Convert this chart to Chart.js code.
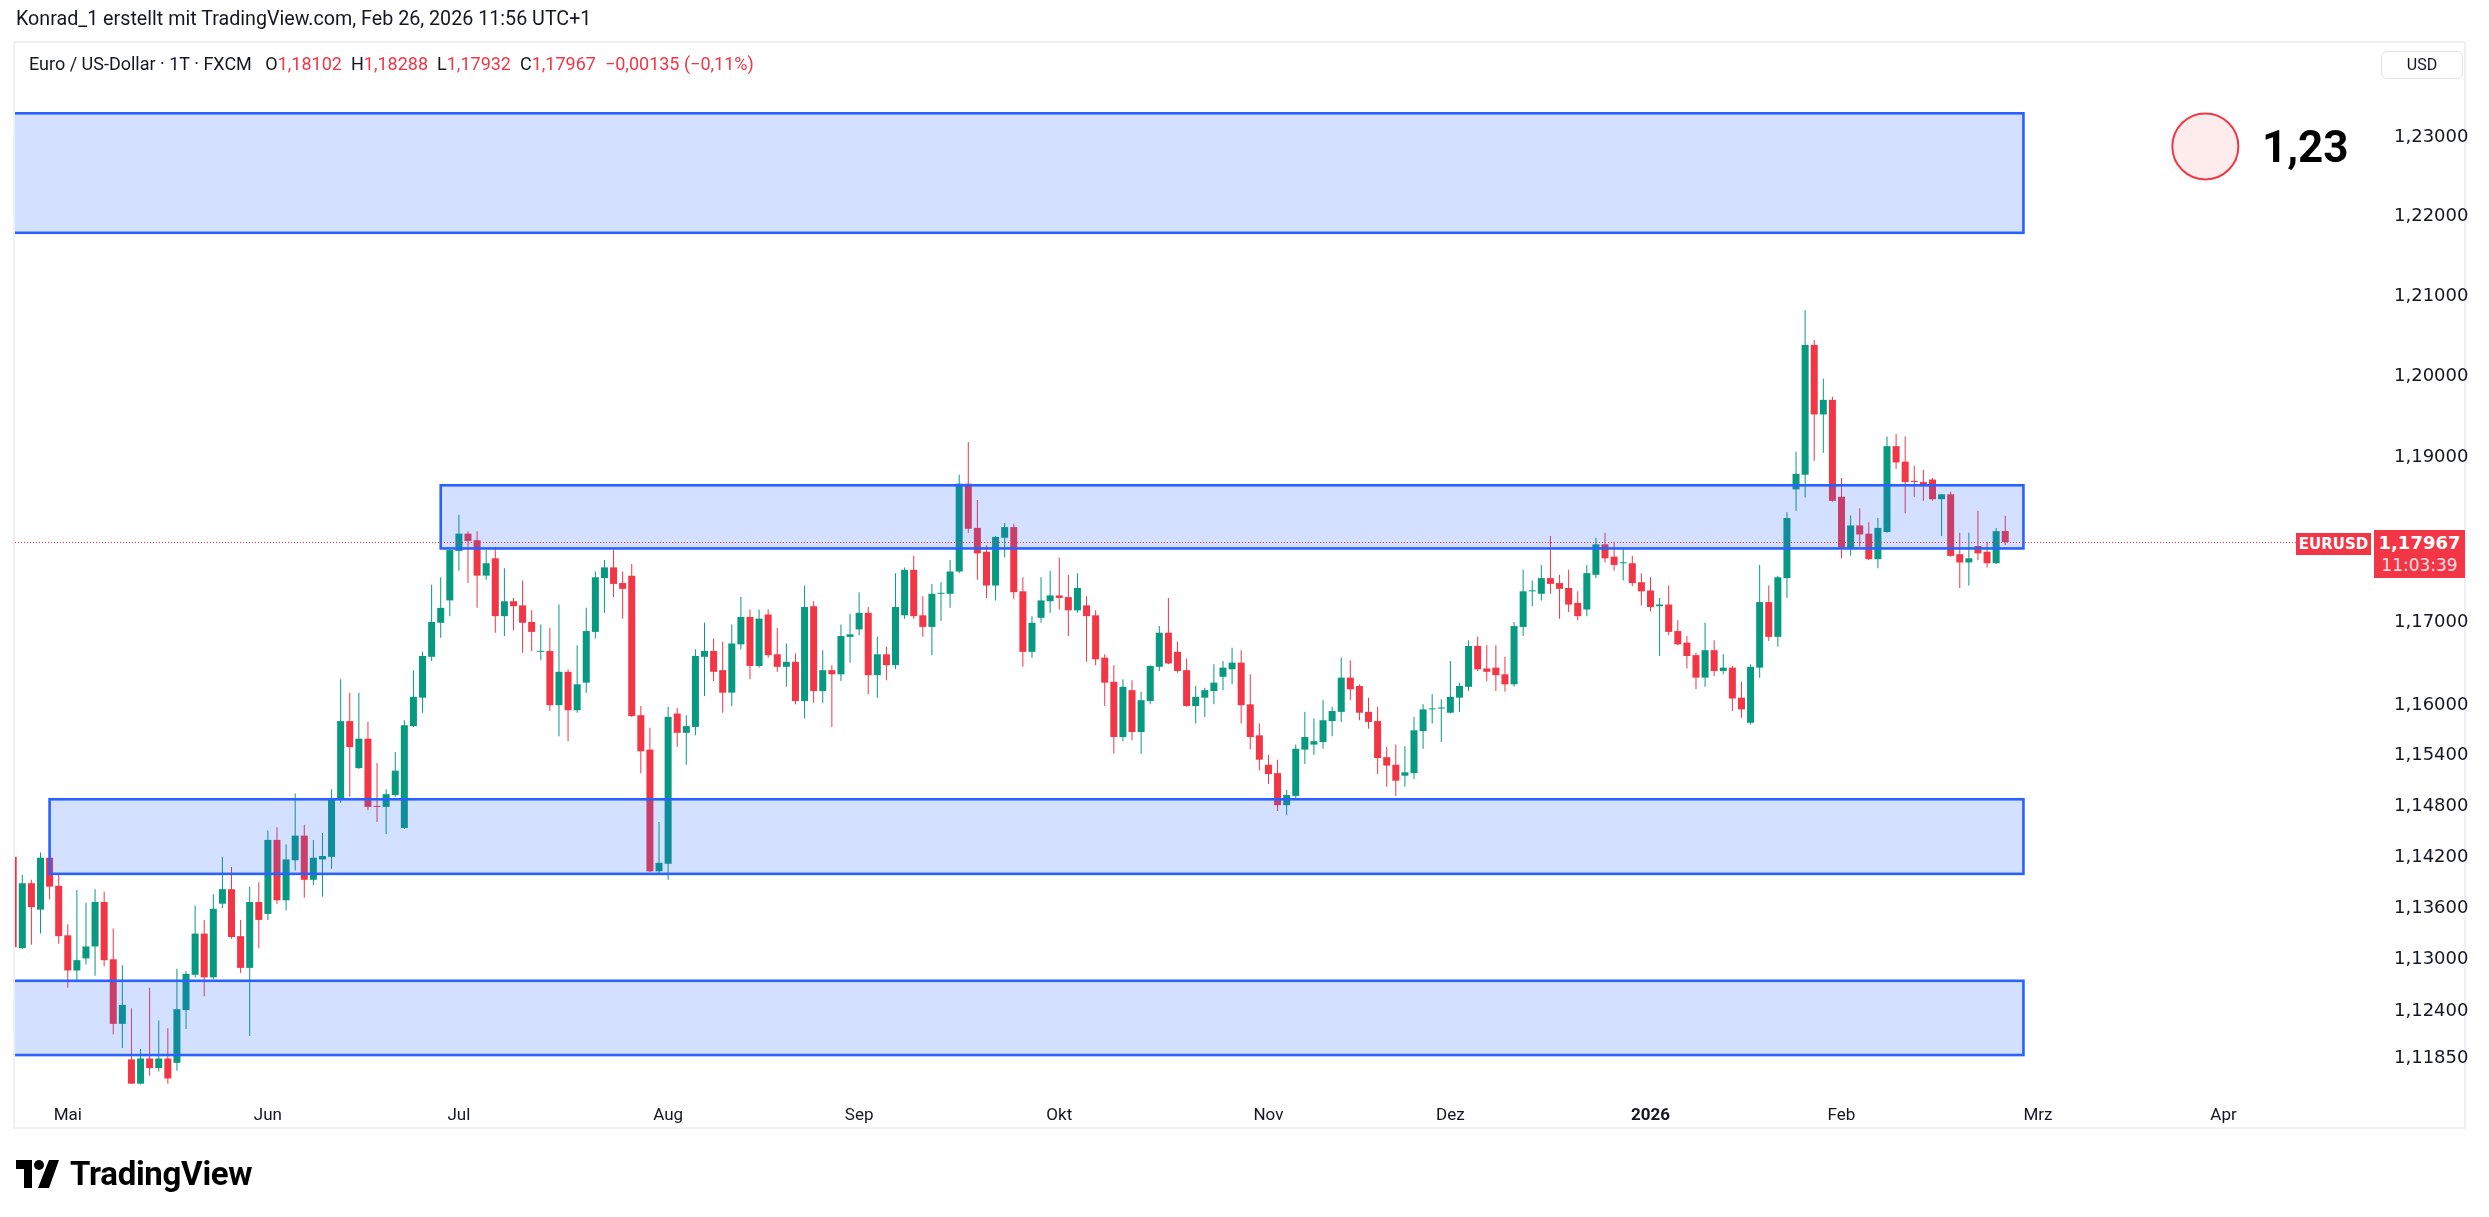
<!DOCTYPE html>
<html lang="de">
<head>
<meta charset="utf-8">
<title>Euro / US-Dollar · 1T · FXCM</title>
<script src="https://cdn.jsdelivr.net/npm/chart.js@4.4.1/dist/chart.umd.min.js"></script>
<style>
  html, body { margin: 0; padding: 0; background: #fff; }
  body { width: 2489px; height: 1217px; position: relative; overflow: hidden; font-family: Roboto, "Noto Sans", sans-serif; color: #131722; }
  #frame { position: absolute; left: 13px; top: 41px; width: 2453px; height: 1088px; border: 2px solid #eef0f4; box-sizing: border-box; }
  #chart { position: absolute; left: 0; top: 0; }
  #author { position: absolute; left: 16px; top: 7px; font-size: 19.7px; line-height: 24px; white-space: nowrap; }
  #legend { position: absolute; left: 29px; top: 53px; font-size: 18px; line-height: 22px; white-space: nowrap; }
  #legend span { margin-left: 9px; }
  #legend .v { color: #f23645; margin-left: 0; font-weight: normal; }
  #usd { position: absolute; left: 2381px; top: 51px; width: 82px; height: 28px; border: 1px solid #e0e3eb; border-radius: 6px; box-sizing: border-box; font-size: 16px; line-height: 26px; text-align: center; }
  #target { position: absolute; left: 2262px; top: 121px; font-size: 44px; line-height: 52px; font-weight: bold; color: #000; }
  #sym { position: absolute; left: 2296px; top: 533px; width: 75px; height: 22px; background: #f23645; color: #fff; font: bold 15px "DejaVu Sans", sans-serif; line-height: 22px; text-align: center; }
  #last { position: absolute; left: 2374px; top: 530px; width: 91px; height: 48px; background: #f23645; color: #fff; font-family: "DejaVu Sans", sans-serif; text-align: center; }
  #last .p { font-size: 18px; font-weight: bold; line-height: 24px; padding-top: 1px; }
  #last .t { font-size: 17px; line-height: 20px; color: rgba(255,255,255,0.85); }
  #logo { position: absolute; left: 16px; top: 1154px; display: flex; align-items: center; }
  #logo span { font-size: 33px; font-weight: bold; letter-spacing: -0.3px; margin-left: 10px; color: #000; }
</style>
</head>
<body>
<div id="frame"></div>
<canvas id="chart" width="2489" height="1217"></canvas>
<div id="author">Konrad_1 erstellt mit TradingView.com, Feb 26, 2026 11:56 UTC+1</div>
<div id="legend">Euro / US-Dollar · 1T · FXCM <span>O<b class="v">1,18102</b></span><span>H<b class="v">1,18288</b></span><span>L<b class="v">1,17932</b></span><span>C<b class="v">1,17967</b></span><span class="v" style="margin-left:9px">−0,00135 (−0,11%)</span></div>
<div id="usd">USD</div>
<div id="target">1,23</div>
<div id="sym">EURUSD</div>
<div id="last"><div class="p">1,17967</div><div class="t">11:03:39</div></div>
<div id="logo">
  <svg width="44" height="28" viewBox="0 0 44 28"><path d="M0 0H16V28H8V9H0Z" fill="#000"/><circle cx="23" cy="5" r="5" fill="#000"/><path d="M33 0H43L33 28H22Z" fill="#000"/></svg>
  <span>TradingView</span>
</div>
<script>
// EUR/USD Tageskerzen (FXCM)
const dates = [
  '2025-04-23','2025-04-24','2025-04-25',
  '2025-04-28','2025-04-29','2025-04-30','2025-05-01','2025-05-02',
  '2025-05-05','2025-05-06','2025-05-07','2025-05-08','2025-05-09',
  '2025-05-12','2025-05-13','2025-05-14','2025-05-15','2025-05-16',
  '2025-05-19','2025-05-20','2025-05-21','2025-05-22','2025-05-23',
  '2025-05-26','2025-05-27','2025-05-28','2025-05-29','2025-05-30',
  '2025-06-02','2025-06-03','2025-06-04','2025-06-05','2025-06-06',
  '2025-06-09','2025-06-10','2025-06-11','2025-06-12','2025-06-13',
  '2025-06-16','2025-06-17','2025-06-18','2025-06-19','2025-06-20',
  '2025-06-23','2025-06-24','2025-06-25','2025-06-26','2025-06-27',
  '2025-06-30','2025-07-01','2025-07-02','2025-07-03','2025-07-04',
  '2025-07-07','2025-07-08','2025-07-09','2025-07-10','2025-07-11',
  '2025-07-14','2025-07-15','2025-07-16','2025-07-17','2025-07-18',
  '2025-07-21','2025-07-22','2025-07-23','2025-07-24','2025-07-25',
  '2025-07-28','2025-07-29','2025-07-30','2025-07-31','2025-08-01',
  '2025-08-04','2025-08-05','2025-08-06','2025-08-07','2025-08-08',
  '2025-08-11','2025-08-12','2025-08-13','2025-08-14','2025-08-15',
  '2025-08-18','2025-08-19','2025-08-20','2025-08-21','2025-08-22',
  '2025-08-25','2025-08-26','2025-08-27','2025-08-28','2025-08-29',
  '2025-09-01','2025-09-02','2025-09-03','2025-09-04','2025-09-05',
  '2025-09-08','2025-09-09','2025-09-10','2025-09-11','2025-09-12',
  '2025-09-15','2025-09-16','2025-09-17','2025-09-18','2025-09-19',
  '2025-09-22','2025-09-23','2025-09-24','2025-09-25','2025-09-26',
  '2025-09-29','2025-09-30','2025-10-01','2025-10-02','2025-10-03',
  '2025-10-06','2025-10-07','2025-10-08','2025-10-09','2025-10-10',
  '2025-10-13','2025-10-14','2025-10-15','2025-10-16','2025-10-17',
  '2025-10-20','2025-10-21','2025-10-22','2025-10-23','2025-10-24',
  '2025-10-27','2025-10-28','2025-10-29','2025-10-30','2025-10-31',
  '2025-11-03','2025-11-04','2025-11-05','2025-11-06','2025-11-07',
  '2025-11-10','2025-11-11','2025-11-12','2025-11-13','2025-11-14',
  '2025-11-17','2025-11-18','2025-11-19','2025-11-20','2025-11-21',
  '2025-11-24','2025-11-25','2025-11-26','2025-11-27','2025-11-28',
  '2025-12-01','2025-12-02','2025-12-03','2025-12-04','2025-12-05',
  '2025-12-08','2025-12-09','2025-12-10','2025-12-11','2025-12-12',
  '2025-12-15','2025-12-16','2025-12-17','2025-12-18','2025-12-19',
  '2025-12-22','2025-12-23','2025-12-24','2025-12-26',
  '2025-12-29','2025-12-30','2025-12-31','2026-01-02',
  '2026-01-05','2026-01-06','2026-01-07','2026-01-08','2026-01-09',
  '2026-01-12','2026-01-13','2026-01-14','2026-01-15','2026-01-16',
  '2026-01-19','2026-01-20','2026-01-21','2026-01-22','2026-01-23',
  '2026-01-26','2026-01-27','2026-01-28','2026-01-29','2026-01-30',
  '2026-02-02','2026-02-03','2026-02-04','2026-02-05','2026-02-06',
  '2026-02-09','2026-02-10','2026-02-11','2026-02-12','2026-02-13',
  '2026-02-16','2026-02-17','2026-02-18','2026-02-19','2026-02-20',
  '2026-02-23','2026-02-24','2026-02-25','2026-02-26'
];

const opens = [
  1.1420,1.1313,1.1389,1.1358,1.1419,1.1386,1.1328,1.1287,1.1301,1.1315,
  1.1367,1.1300,1.1225,1.1184,1.1156,1.1185,1.1174,1.1185,1.1180,1.1241,
  1.1282,1.1330,1.1279,1.1365,1.1382,1.1327,1.1290,1.1367,1.1353,1.1440,
  1.1369,1.1416,1.1445,1.1393,1.1417,1.1420,1.1488,1.1581,1.1525,1.1560,
  1.1480,1.1479,1.1493,1.1454,1.1575,1.1609,1.1658,1.1699,1.1726,1.1786,
  1.1807,1.1799,1.1756,1.1777,1.1707,1.1725,1.1720,1.1700,1.1664,1.1665,
  1.1600,1.1640,1.1594,1.1627,1.1688,1.1753,1.1766,1.1747,1.1756,1.1588,
  1.1547,1.1403,1.1412,1.1590,1.1567,1.1574,1.1658,1.1665,1.1642,1.1615,
  1.1673,1.1706,1.1647,1.1709,1.1661,1.1646,1.1652,1.1605,1.1719,1.1617,
  1.1642,1.1637,1.1682,1.1691,1.1711,1.1636,1.1661,1.1648,1.1708,1.1763,
  1.1708,1.1694,1.1734,1.1734,1.1761,1.1868,1.1814,1.1785,1.1744,1.1802,
  1.1815,1.1737,1.1664,1.1705,1.1725,1.1732,1.1730,1.1714,1.1720,1.1708,
  1.1657,1.1628,1.1562,1.1618,1.1568,1.1605,1.1646,1.1687,1.1664,1.1642,
  1.1599,1.1609,1.1617,1.1634,1.1643,1.1651,1.1601,1.1564,1.1529,1.1519,
  1.1481,1.1492,1.1547,1.1553,1.1556,1.1581,1.1592,1.1633,1.1623,1.1592,
  1.1581,1.1538,1.1529,1.1516,1.1519,1.1569,1.1595,1.1596,1.1591,1.1609,
  1.1622,1.1671,1.1644,1.1645,1.1637,1.1625,1.1694,1.1737,1.1734,1.1753,
  1.1747,1.1741,1.1723,1.1715,1.1757,1.1794,1.1779,1.1771,1.1771,1.1748,
  1.1738,1.1719,1.1721,1.1689,1.1675,1.1660,1.1633,1.1666,1.1641,1.1645,
  1.1609,1.1579,1.1645,1.1724,1.1682,1.1753,1.1861,1.1879,1.2039,1.1953,
  1.1971,1.1852,1.1790,1.1817,1.1807,1.1776,1.1809,1.1914,1.1895,1.1871,
  1.1870,1.1873,1.1849,1.1855,1.1782,1.1772,1.1792,1.1785,1.1771,1.18102
];

const highs = [
  1.1425,1.1399,1.1393,1.1425,1.1423,1.1400,1.1341,1.1381,1.1366,1.1382,
  1.1379,1.1336,1.1293,1.1243,1.1196,1.1267,1.1229,1.1220,1.1289,1.1286,
  1.1363,1.1346,1.1376,1.1420,1.1408,1.1346,1.1385,1.1390,1.1451,1.1455,
  1.1435,1.1495,1.1458,1.1440,1.1448,1.1500,1.1631,1.1615,1.1615,1.1580,
  1.1531,1.1500,1.1544,1.1582,1.1642,1.1664,1.1745,1.1754,1.1788,1.1830,
  1.1810,1.1810,1.1787,1.1791,1.1765,1.1729,1.1750,1.1714,1.1697,1.1693,
  1.1721,1.1643,1.1672,1.1717,1.1761,1.1775,1.1788,1.1761,1.1770,1.1599,
  1.1573,1.1461,1.1598,1.1597,1.1588,1.1667,1.1699,1.1680,1.1676,1.1697,
  1.1730,1.1715,1.1715,1.1715,1.1693,1.1674,1.1662,1.1744,1.1725,1.1666,
  1.1648,1.1697,1.1710,1.1736,1.1718,1.1682,1.1670,1.1759,1.1766,1.1780,
  1.1731,1.1746,1.1748,1.1775,1.1879,1.1919,1.1848,1.1793,1.1804,1.1820,
  1.1819,1.1754,1.1707,1.1754,1.1762,1.1778,1.1757,1.1759,1.1731,1.1714,
  1.1661,1.1648,1.1631,1.1630,1.1616,1.1648,1.1695,1.1729,1.1676,1.1656,
  1.1623,1.1621,1.1649,1.1653,1.1669,1.1666,1.1637,1.1578,1.1541,1.1535,
  1.1499,1.1553,1.1592,1.1584,1.1606,1.1598,1.1657,1.1654,1.1625,1.1609,
  1.1598,1.1550,1.1553,1.1551,1.1586,1.1601,1.1613,1.1607,1.1653,1.1627,
  1.1678,1.1682,1.1672,1.1672,1.1658,1.1700,1.1763,1.1750,1.1769,1.1804,
  1.1757,1.1763,1.1737,1.1769,1.1802,1.1808,1.1797,1.1788,1.1780,1.1759,
  1.1754,1.1729,1.1744,1.1702,1.1683,1.1663,1.1699,1.1678,1.1661,1.1647,
  1.1628,1.1649,1.1769,1.1744,1.1756,1.1833,1.1907,1.2082,1.2045,1.1997,
  1.1975,1.1875,1.1829,1.1838,1.1821,1.1826,1.1926,1.1929,1.1926,1.1890,
  1.1885,1.1875,1.1855,1.1858,1.1808,1.1808,1.1835,1.1797,1.1814,1.18288
];

const lows = [
  1.1305,1.1312,1.1317,1.1330,1.1370,1.1318,1.1267,1.1275,1.1294,1.1281,
  1.1292,1.1213,1.1197,1.1156,1.1155,1.1165,1.1170,1.1156,1.1171,1.1219,
  1.1279,1.1257,1.1277,1.1360,1.1324,1.1284,1.1211,1.1313,1.1346,1.1365,
  1.1357,1.1404,1.1372,1.1387,1.1373,1.1406,1.1484,1.1491,1.1524,1.1475,
  1.1461,1.1447,1.1491,1.1453,1.1574,1.1591,1.1653,1.1681,1.1707,1.1762,
  1.1747,1.1717,1.1751,1.1687,1.1683,1.1690,1.1663,1.1665,1.1654,1.1593,
  1.1563,1.1557,1.1591,1.1615,1.1680,1.1711,1.1730,1.1704,1.1586,1.1519,
  1.1402,1.1401,1.1393,1.1550,1.1529,1.1564,1.1611,1.1629,1.1591,1.1599,
  1.1667,1.1631,1.1645,1.1657,1.1640,1.1622,1.1601,1.1584,1.1603,1.1603,
  1.1574,1.1629,1.1651,1.1684,1.1613,1.1609,1.1630,1.1643,1.1704,1.1704,
  1.1682,1.1660,1.1701,1.1717,1.1759,1.1808,1.1751,1.1729,1.1726,1.1778,
  1.1728,1.1646,1.1657,1.1699,1.1711,1.1715,1.1683,1.1711,1.1652,1.1648,
  1.1599,1.1542,1.1557,1.1558,1.1542,1.1601,1.1641,1.1649,1.1639,1.1598,
  1.1578,1.1586,1.1601,1.1618,1.1625,1.1578,1.1547,1.1522,1.1506,1.1474,
  1.1469,1.1488,1.1530,1.1541,1.1548,1.1563,1.1580,1.1606,1.1582,1.1572,
  1.1518,1.1503,1.1492,1.1503,1.1512,1.1548,1.1578,1.1556,1.1590,1.1592,
  1.1617,1.1641,1.1629,1.1617,1.1616,1.1622,1.1683,1.1719,1.1726,1.1734,
  1.1704,1.1712,1.1702,1.1707,1.1753,1.1772,1.1762,1.1750,1.1743,1.1720,
  1.1713,1.1659,1.1684,1.1672,1.1644,1.1619,1.1622,1.1635,1.1637,1.1593,
  1.1585,1.1577,1.1633,1.1677,1.1670,1.1729,1.1835,1.1851,1.1896,1.1906,
  1.1846,1.1777,1.1780,1.1791,1.1775,1.1765,1.1808,1.1886,1.1832,1.1852,
  1.1847,1.1847,1.1804,1.1779,1.1741,1.1744,1.1775,1.1766,1.1770,1.17932
];

const closes = [
  1.1314,1.1389,1.1361,1.1419,1.1385,1.1327,1.1287,1.1299,1.1315,1.1367,
  1.1299,1.1225,1.1247,1.1156,1.1185,1.1174,1.1185,1.1162,1.1242,1.1283,
  1.1330,1.1279,1.1359,1.1382,1.1326,1.1290,1.1367,1.1346,1.1440,1.1369,
  1.1417,1.1445,1.1393,1.1419,1.1421,1.1488,1.1581,1.1550,1.1560,1.1479,
  1.1479,1.1494,1.1522,1.1576,1.1610,1.1659,1.1700,1.1717,1.1787,1.1807,
  1.1798,1.1756,1.1771,1.1707,1.1725,1.1719,1.1699,1.1688,1.1665,1.1600,
  1.1640,1.1594,1.1625,1.1689,1.1754,1.1766,1.1746,1.1740,1.1587,1.1545,
  1.1403,1.1413,1.1586,1.1567,1.1575,1.1659,1.1665,1.1640,1.1615,1.1674,
  1.1706,1.1647,1.1704,1.1660,1.1646,1.1652,1.1605,1.1718,1.1617,1.1642,
  1.1637,1.1683,1.1685,1.1711,1.1636,1.1661,1.1648,1.1718,1.1763,1.1707,
  1.1694,1.1734,1.1735,1.1761,1.1868,1.1813,1.1783,1.1744,1.1803,1.1815,
  1.1736,1.1664,1.1699,1.1726,1.1732,1.1729,1.1714,1.1741,1.1707,1.1655,
  1.1627,1.1562,1.1622,1.1568,1.1606,1.1647,1.1687,1.1650,1.1641,1.1599,
  1.1610,1.1618,1.1627,1.1645,1.1651,1.1600,1.1562,1.1535,1.1518,1.1481,
  1.1493,1.1548,1.1562,1.1557,1.1582,1.1593,1.1633,1.1619,1.1591,1.1580,
  1.1537,1.1528,1.1510,1.1520,1.1570,1.1595,1.1596,1.1597,1.1610,1.1623,
  1.1671,1.1643,1.1640,1.1636,1.1625,1.1695,1.1737,1.1738,1.1753,1.1746,
  1.1740,1.1721,1.1707,1.1759,1.1794,1.1777,1.1769,1.1772,1.1747,1.1737,
  1.1718,1.1721,1.1688,1.1673,1.1659,1.1633,1.1666,1.1641,1.1645,1.1608,
  1.1595,1.1646,1.1724,1.1682,1.1754,1.1826,1.1880,1.2039,1.1953,1.1971,
  1.1847,1.1790,1.1817,1.1806,1.1776,1.1814,1.1914,1.1894,1.1870,1.1870,
  1.1865,1.1849,1.1855,1.1780,1.1772,1.1777,1.1783,1.1771,1.1810,1.17967
];

// Preisachse (logarithmisch) und Zeitachse
const priceTicks = [1.23, 1.22, 1.21, 1.20, 1.19, 1.17, 1.16, 1.154, 1.148, 1.142, 1.136, 1.13, 1.124, 1.1185];
const monthTickIdx = [6, 28, 49, 72, 93, 115, 138, 158, 180, 201, 222.6, 243];
const monthTickLabels = ['Mai', 'Jun', 'Jul', 'Aug', 'Sep', 'Okt', 'Nov', 'Dez', '2026', 'Feb', 'Mrz', 'Apr'];

// Zonen (Rechtecke): Preisgrenzen und Start/Ende als Kerzenindex
const zoneTop = [1.2330, 1.1866, 1.1488, 1.1275];
const zoneBottom = [1.2179, 1.1789, 1.1400, 1.1189];
const zoneFrom = [-10, 47, 4, -10];
const zoneTo = [221, 221, 221, 221];

const lastPrice = closes[closes.length - 1];
const targetMark = { x: 241, y: 1.2288 };

const upColor = '#089981';
const downColor = '#f23645';
const candleColors = closes.map((c, i) => c >= opens[i] ? upColor : downColor);

const overlayPlugin = {
  id: 'overlay',
  afterDatasetsDraw(chart) {
    const { ctx, chartArea: a, scales: { x, y } } = chart;
    ctx.save();
    ctx.beginPath();
    ctx.rect(a.left, a.top, a.right - a.left, a.bottom - a.top);
    ctx.clip();

    zoneTop.forEach((top, k) => {
      const x0 = x.getPixelForValue(zoneFrom[k]);
      const x1 = x.getPixelForValue(zoneTo[k]);
      const y0 = y.getPixelForValue(top);
      const y1 = y.getPixelForValue(zoneBottom[k]);
      ctx.fillStyle = 'rgba(41, 98, 255, 0.2)';
      ctx.fillRect(x0, y0, x1 - x0, y1 - y0);
      ctx.strokeStyle = '#2962ff';
      ctx.lineWidth = 2.6;
      ctx.strokeRect(x0, y0, x1 - x0, y1 - y0);
    });

    // letzte Kurslinie
    const py = Math.round(y.getPixelForValue(lastPrice)) + 0.5;
    ctx.setLineDash([1, 2]);
    ctx.strokeStyle = '#f23645';
    ctx.lineWidth = 1;
    ctx.beginPath();
    ctx.moveTo(a.left, py);
    ctx.lineTo(a.right, py);
    ctx.stroke();
    ctx.setLineDash([]);

    // Kreis-Markierung bei 1,23
    const cx = x.getPixelForValue(targetMark.x);
    const cy = y.getPixelForValue(targetMark.y);
    ctx.beginPath();
    ctx.arc(cx, cy, 33, 0, Math.PI * 2);
    ctx.fillStyle = '#feebec';
    ctx.fill();
    ctx.strokeStyle = '#f23645';
    ctx.lineWidth = 2;
    ctx.stroke();
    ctx.restore();
  }
};

new Chart(document.getElementById('chart'), {
  type: 'bar',
  data: {
    datasets: [
      {
        label: 'Docht',
        data: dates.map((d, i) => ({ x: i, y: [lows[i], highs[i]] })),
        backgroundColor: candleColors,
        barThickness: 1,
        grouped: false,
        inflateAmount: 0,
        minBarLength: 1,
        order: 2
      },
      {
        label: 'Körper',
        data: dates.map((d, i) => ({ x: i, y: [opens[i], closes[i]] })),
        backgroundColor: candleColors,
        barThickness: 7,
        grouped: false,
        inflateAmount: 0,
        minBarLength: 1,
        order: 1
      }
    ]
  },
  options: {
    responsive: false,
    animation: false,
    devicePixelRatio: 1,
    layout: { padding: { left: 15, top: 43, right: 0, bottom: 90 } },
    plugins: { legend: { display: false }, tooltip: { enabled: false } },
    scales: {
      x: {
        type: 'linear',
        min: 0.198,
        max: 259.32,
        offset: false,
        bounds: 'data',
        grid: { display: false },
        border: { display: false },
        afterBuildTicks: s => { s.ticks = monthTickIdx.map(v => ({ value: v })); },
        afterFit: s => { s.height = 32; },
        ticks: {
          autoSkip: false,
          maxRotation: 0,
          padding: 3,
          color: '#131722',
          font: c => ({ family: 'Roboto', size: 17, weight: (c.tick && c.tick.value === 180) ? 'bold' : 'normal' }),
          callback: (v, i) => monthTickLabels[i]
        }
      },
      y: {
        type: 'logarithmic',
        position: 'right',
        min: 1.11430,
        max: 1.24197,
        bounds: 'data',
        grid: { display: false },
        border: { display: false },
        afterBuildTicks: s => { s.ticks = priceTicks.map(v => ({ value: v })); },
        afterFit: s => { s.width = 117; },
        ticks: {
          padding: 14,
          color: '#131722',
          font: { family: 'DejaVu Sans', size: 18 },
          callback: v => v.toFixed(5).replace('.', ',')
        }
      }
    }
  },
  plugins: [overlayPlugin]
});
</script>
</body>
</html>
